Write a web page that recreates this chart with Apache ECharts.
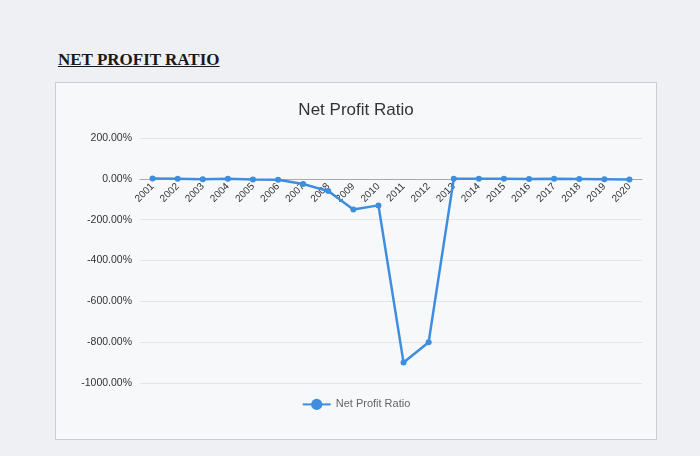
<!DOCTYPE html>
<html>
<head>
<meta charset="utf-8">
<script src="https://cdn.jsdelivr.net/npm/echarts@6/dist/echarts.min.js"></script>
<style>
  body { margin: 0; background: #eef0f3; width: 700px; height: 456px; overflow: hidden; position: relative; font-family: "Liberation Serif", serif; }
  #head { position: absolute; left: 58px; top: 50px; font-size: 17px; font-weight: bold; text-decoration: underline; color: #1a1a1a; }
  #box { position: absolute; left: 55px; top: 82px; width: 600px; height: 356px; border: 1px solid #c9ccd2; background: #f7f8fa; }
  #chart { width: 600px; height: 356px; }
</style>
</head>
<body>
<div id="head">NET PROFIT RATIO</div>
<div id="box"><div id="chart"></div></div>
<script>
// dados
let anos = ["2001","2002","2003","2004","2005","2006","2007","2008","2009","2010",
            "2011","2012","2013","2014","2015","2016","2017","2018","2019","2020"];
let ratio = [2, 0, -2, 1, -3, -4, -25, -60, -150, -130,
             -900, -800, 0, 0, 1, -1, 0, -1, -2, -3];

let myChart = echarts.init(document.getElementById("chart"));

// eixo x desenhado na linha do zero: altura do grid = 356 - 55 - 56 = 245
let alturaGrid = 245;
let offsetZero = -alturaGrid * 1000 / 1200;

let option = {
    title: {
        text: "Net Profit Ratio",
        left: "center",
        top: 14,
        textStyle: { color: "#333", fontSize: 17, fontWeight: "normal", fontFamily: "Liberation Sans" }
    },
    legend: {
        bottom: 24,
        left: "center",
        itemWidth: 28,
        textStyle: { color: "#666", fontSize: 11, fontFamily: "Liberation Sans" }
    },
    grid: { left: 84, right: 14, top: 55, bottom: 56 },
    xAxis: {
        type: "category",
        data: anos,
        boundaryGap: true,
        position: "bottom",
        offset: offsetZero,
        axisLine: { onZero: false, lineStyle: { color: "#aaa" } },
        axisTick: { show: false },
        axisLabel: { rotate: 45, color: "#333", fontSize: 10, fontFamily: "Liberation Sans", margin: 6 }
    },
    yAxis: {
        type: "value",
        min: -1000,
        max: 200,
        interval: 200,
        axisLabel: {
            formatter: v => v.toFixed(2) + "%",
            color: "#333", fontSize: 10.5, fontFamily: "Liberation Sans"
        },
        splitLine: { lineStyle: { color: "#e2e4e8" } }
    },
    series: [
        {
            name: "Net Profit Ratio",
            type: "line",
            data: ratio,
            symbol: "circle",
            symbolSize: 6,
            lineStyle: { width: 2.5, color: "#3d8ede" },
            itemStyle: { color: "#3d8ede" }
        }
    ]
};

myChart.setOption(option);
</script>
</body>
</html>
